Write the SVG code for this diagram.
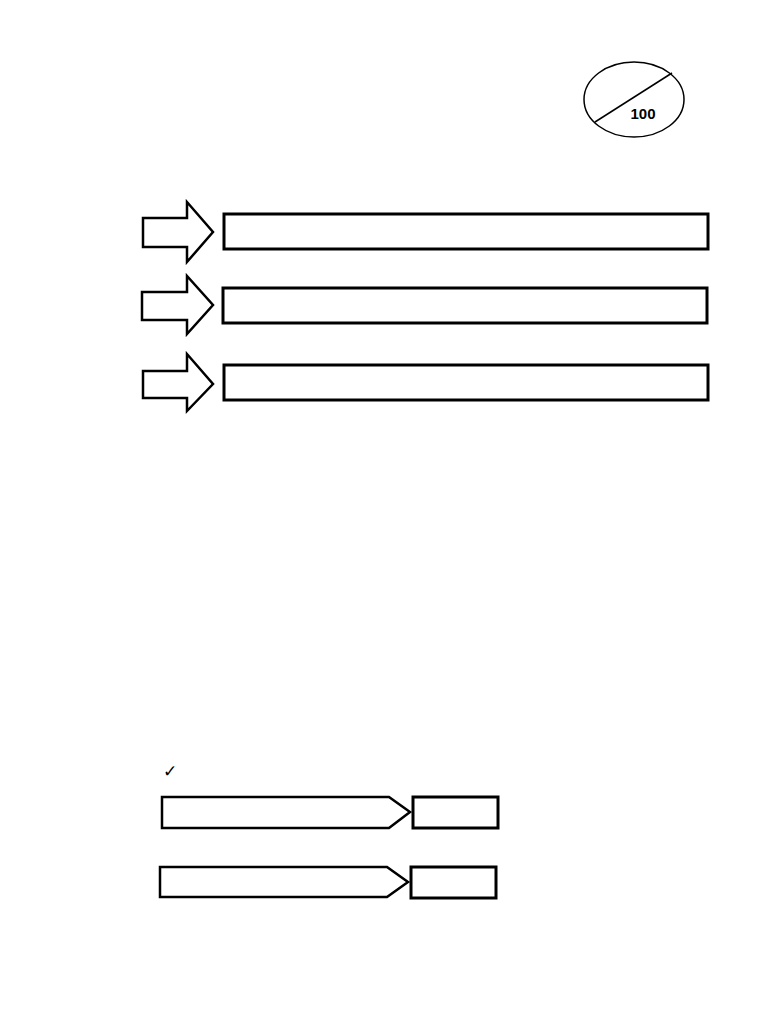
<svg xmlns="http://www.w3.org/2000/svg" width="768" height="1024" viewBox="0 0 768 1024">
<style>
.s{fill:#fff;stroke:#000;stroke-width:2.5;stroke-linejoin:miter}
.r{fill:#fff;stroke:#000;stroke-width:3}
.th{fill:#fff;stroke:#000;stroke-width:1.5}
</style>
<rect width="768" height="1024" fill="#fff"/>
<g id="score">
<ellipse class="th" cx="634" cy="99.5" rx="50" ry="37.5"/>
<line x1="595" y1="122" x2="672" y2="73" stroke="#000" stroke-width="1.5"/>
<text x="643" y="119" font-family="Liberation Sans, Arial, sans-serif" font-size="15" font-weight="bold" text-anchor="middle">100</text>
</g>
<g id="arrow1"><polygon class="s" points="143,218 187,218 187,202 213,232 187,262 187,247 143,247"/></g>
<g id="box1"><rect class="r" x="224" y="214" width="484" height="35"/></g>
<g id="arrow2"><polygon class="s" points="142,292 187,292 187,276 213,305 187,334 187,320 142,320"/></g>
<g id="box2"><rect class="r" x="223" y="288" width="484" height="35"/></g>
<g id="arrow3"><polygon class="s" points="143,371 187,371 187,354 213,384 187,411 187,398 143,398"/></g>
<g id="box3"><rect class="r" x="224" y="365" width="484" height="35"/></g>
<g id="check"><text x="163" y="777" font-family="DejaVu Sans, sans-serif" font-size="17" font-weight="bold">✓</text></g>
<g id="pent1"><polygon class="s" points="162,797 389,797 410,812 389,828 162,828"/></g>
<g id="box4"><rect class="r" x="413" y="797" width="85" height="31"/></g>
<g id="pent2"><polygon class="s" points="160,867 387,867 408,882 387,897 160,897"/></g>
<g id="box5"><rect class="r" x="411" y="867" width="85" height="31"/></g>
<g id="connectors"></g>
</svg>
